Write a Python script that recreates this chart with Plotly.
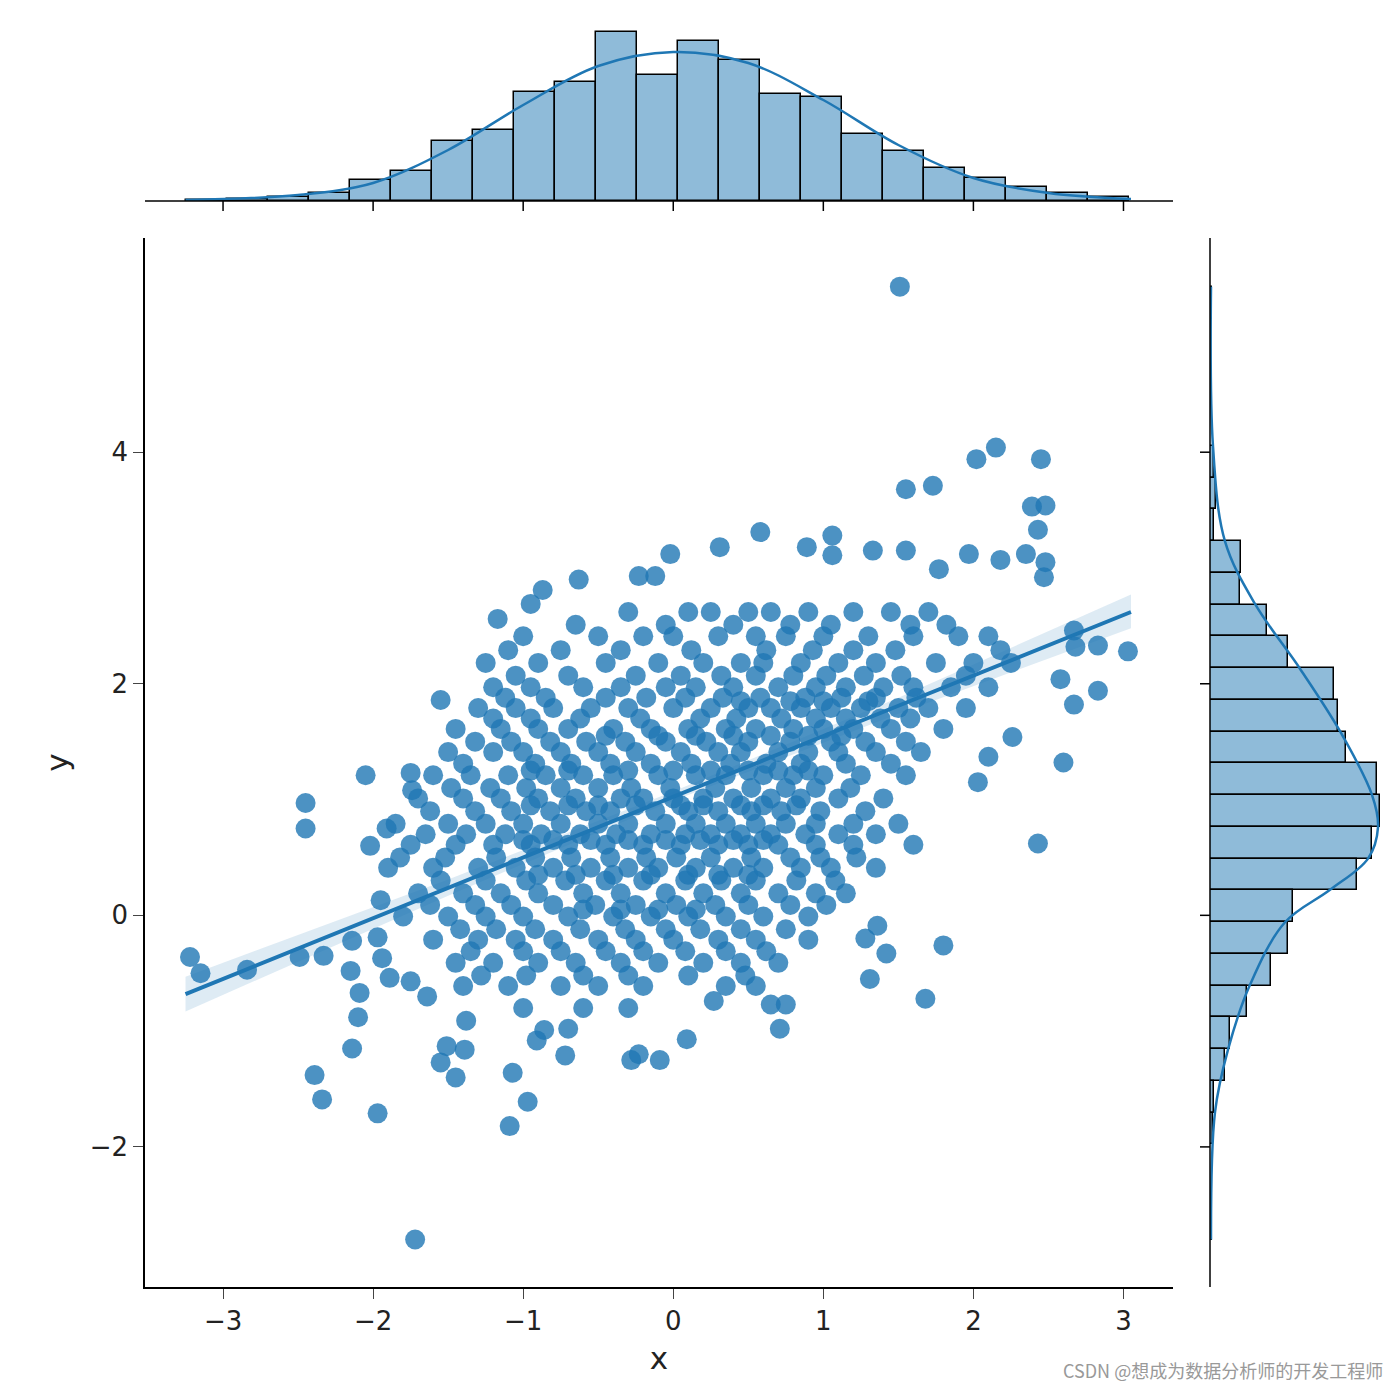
import numpy as np
import plotly.graph_objects as go

BLUE = '#1f77b4'

# top marginal histogram (bar heights)
x_bin_start = -3.25
x_bin_width = 0.2733
x_counts = [1, 2, 4, 8, 21, 30, 60, 71, 109, 119, 169, 126, 160, 141, 107, 104, 67, 50, 33, 23, 14, 8, 4]
x_kde_x = [-3.25, -2.5, -2.0, -1.5, -1.0, -0.5, 0.0, 0.5, 1.0, 1.5, 2.0, 2.5, 3.05]
x_kde_h = [1, 6, 18, 51, 96, 135, 149, 138, 101, 56, 23, 8, 2]

# right marginal histogram (top bin first)
y_bin_top = 5.425
y_bin_width = 0.2742
y_counts = [2, 0, 0, 0, 0, 4, 6, 4, 31, 30, 57, 78, 124, 128, 136, 167, 170, 162, 147,
            83, 78, 61, 37, 20, 15, 4, 3, 0, 0, 2]
y_kde_y = [5.43, 4.05, 3.23, 2.69, 2.13, 1.59, 1.04, 0.76, 0.49, 0.22, -0.06, -0.60, -1.16, -1.70, -2.80]
y_kde_w = [1, 3, 15, 45, 90, 130, 162, 168, 158, 120, 75, 40, 18, 5, 1]

# regression line and confidence band
reg_x = [-3.25, -1.5, 0.0, 1.5, 3.05]
reg_y = [-0.68, 0.24, 1.03, 1.81, 2.62]
reg_lo = [-0.83, 0.17, 0.99, 1.74, 2.48]
reg_hi = [-0.53, 0.31, 1.07, 1.88, 2.77]

# scattered points outside the dense core
out_x = [1.51, -1.72, -3.22, -3.15, -2.84, -2.45, -2.45, -2.49, -2.33, -2.39, -2.34, -1.97, -2.14, -2.10,
         -2.09, -2.15, -2.14, -2.05, -2.02, -1.09, -0.97, -1.07, -1.55, -1.17, -0.95, -0.87, -0.63, -0.02,
         -0.23, -0.12, 0.31, 0.58, 0.89, 1.06, 1.06, 1.55, 1.73, 2.02, 2.15, 2.45, 2.39, 2.48, 2.43, 2.48,
         2.47, 2.35, 2.18, 1.97, 1.77, 1.55, 1.33, 3.03, 2.83, 2.83, 2.67, 2.68, 2.58, 2.67, 2.60, 2.43,
         2.26, 2.10, 2.03, 1.80, 1.68, 1.31, 1.28, 1.42, 1.36, 0.71, 0.65, 0.75, 0.27, 0.09, -0.09, -0.23,
         -0.28, -0.72, -0.70, -0.86, -0.91, -1.38, -1.39, -1.51, -1.55, -1.45, -1.64, -1.75, -1.89, -1.94,
         -1.97, -1.95, -1.91, -1.75, -1.74]
out_y = [5.43, -2.80, -0.36, -0.50, -0.47, 0.97, 0.75, -0.36, -0.35, -1.38, -1.59, -1.71, -1.15, -0.88,
         -0.67, -0.48, -0.22, 1.21, 0.60, -1.82, -1.61, -1.36, 1.86, 2.56, 2.69, 2.81, 2.90, 3.12,
         2.93, 2.93, 3.18, 3.31, 3.18, 3.28, 3.11, 3.68, 3.71, 3.94, 4.04, 3.94, 3.53, 3.54, 3.33, 3.05,
         2.92, 3.12, 3.07, 3.12, 2.99, 3.15, 3.15, 2.28, 1.94, 2.33, 2.46, 2.32, 2.04, 1.82, 1.32, 0.62,
         1.54, 1.37, 1.15, -0.26, -0.72, -0.55, -0.20, -0.33, -0.09, -0.98, -0.77, -0.77, -0.74, -1.07, -1.25, -1.20,
         -1.25, -1.21, -0.98, -0.99, -1.08, -0.91, -1.16, -1.13, -1.27, -1.40, -0.70, -0.57, -0.54, -0.37,
         -0.19, 0.13, 0.75, 1.23, 1.08]

# dense core, read row by row: (y level, x positions)
core_rows = [
    (2.62, [-0.3, 0.1, 0.25, 0.5, 0.65, 0.9, 1.2, 1.45, 1.7]),
    (2.51, [-0.65, -0.05, 0.4, 0.78, 1.05, 1.58, 1.82]),
    (2.41, [-1.0, -0.5, -0.2, 0.0, 0.3, 0.55, 0.75, 1.0, 1.3, 1.6, 1.9, 2.1]),
    (2.29, [-1.1, -0.75, -0.35, 0.12, 0.62, 0.93, 1.2, 1.48, 2.18]),
    (2.18, [-1.25, -0.9, -0.45, -0.1, 0.2, 0.45, 0.6, 0.85, 1.1, 1.35, 1.75, 2.0, 2.25]),
    (2.07, [-1.05, -0.7, -0.25, 0.05, 0.32, 0.55, 0.8, 1.02, 1.27, 1.52, 1.95]),
    (1.97, [-1.2, -0.95, -0.6, -0.35, -0.05, 0.15, 0.4, 0.7, 0.95, 1.15, 1.4, 1.6, 1.85, 2.1]),
    (1.88, [-1.12, -0.85, -0.45, -0.18, 0.08, 0.33, 0.58, 0.88, 1.12, 1.35, 1.62]),
    (1.79, [-1.3, -1.05, -0.8, -0.55, -0.3, 0.0, 0.25, 0.5, 0.65, 0.85, 1.05, 1.25, 1.5, 1.7, 1.95]),
    (1.70, [-1.2, -0.95, -0.62, -0.22, 0.18, 0.42, 0.72, 0.95, 1.15, 1.38, 1.58]),
    (1.61, [-1.45, -1.15, -0.9, -0.7, -0.4, -0.15, 0.1, 0.35, 0.55, 0.8, 1.0, 1.2, 1.45, 1.8]),
    (1.50, [-1.32, -1.08, -0.82, -0.58, -0.32, -0.05, 0.22, 0.5, 0.78, 1.05, 1.28, 1.55]),
    (1.41, [-1.5, -1.2, -1.0, -0.75, -0.5, -0.25, 0.05, 0.3, 0.45, 0.7, 0.9, 1.1, 1.35, 1.65]),
    (1.31, [-1.4, -0.92, -0.68, -0.42, -0.15, 0.12, 0.38, 0.62, 0.85, 1.15, 1.45]),
    (1.21, [-1.6, -1.35, -1.1, -0.85, -0.6, -0.4, -0.1, 0.15, 0.35, 0.6, 0.8, 1.0, 1.25, 1.55]),
    (1.10, [-1.48, -1.22, -0.98, -0.75, -0.5, -0.28, -0.02, 0.28, 0.52, 0.75, 0.95, 1.18]),
    (1.01, [-1.7, -1.4, -1.15, -0.9, -0.65, -0.35, -0.2, 0.0, 0.2, 0.4, 0.65, 0.85, 1.1, 1.4]),
    (0.90, [-1.62, -1.32, -1.08, -0.82, -0.58, -0.42, -0.12, 0.1, 0.3, 0.52, 0.72, 0.98, 1.28]),
    (0.79, [-1.85, -1.5, -1.25, -1.0, -0.75, -0.5, -0.3, -0.05, 0.15, 0.35, 0.55, 0.75, 0.95, 1.2, 1.5]),
    (0.70, [-1.65, -1.38, -1.12, -0.88, -0.62, -0.38, -0.15, 0.08, 0.25, 0.45, 0.65, 0.88, 1.1, 1.35]),
    (0.61, [-1.75, -1.45, -1.2, -0.95, -0.7, -0.45, -0.2, 0.05, 0.3, 0.5, 0.7, 0.95, 1.2, 1.6]),
    (0.50, [-1.82, -1.52, -1.18, -0.92, -0.68, -0.42, -0.18, 0.02, 0.25, 0.52, 0.78, 0.98, 1.22]),
    (0.41, [-1.9, -1.6, -1.3, -1.05, -0.8, -0.55, -0.3, -0.1, 0.15, 0.4, 0.6, 0.85, 1.05, 1.35]),
    (0.30, [-1.55, -1.25, -0.98, -0.72, -0.45, -0.2, 0.08, 0.32, 0.55, 0.82, 1.08]),
    (0.19, [-1.7, -1.4, -1.15, -0.9, -0.6, -0.35, -0.05, 0.2, 0.45, 0.7, 0.95, 1.15]),
    (0.09, [-1.62, -1.32, -1.08, -0.8, -0.52, -0.25, 0.02, 0.28, 0.5, 0.78, 1.02]),
    (-0.01, [-1.8, -1.5, -1.25, -1.0, -0.7, -0.4, -0.15, 0.1, 0.35, 0.6, 0.9]),
    (-0.12, [-1.42, -1.18, -0.92, -0.62, -0.32, -0.05, 0.18, 0.45, 0.75]),
    (-0.21, [-1.6, -1.3, -1.05, -0.8, -0.5, -0.25, 0.0, 0.3, 0.55, 0.9]),
    (-0.31, [-1.35, -1.0, -0.75, -0.45, -0.2, 0.08, 0.35, 0.62]),
    (-0.41, [-1.45, -1.2, -0.9, -0.65, -0.35, -0.1, 0.2, 0.45, 0.7]),
    (-0.52, [-1.28, -0.98, -0.6, -0.3, 0.1, 0.48]),
    (-0.61, [-1.4, -1.1, -0.75, -0.5, -0.2, 0.35, 0.55]),
    (-0.80, [-1.0, -0.6, -0.3]),
]

# solid-looking centre of the cloud
centre_rows = [
    (1.85, [0.45, 0.78, 1.0, 1.3]),
    (1.55, [-0.45, -0.1, 0.15, 0.4, 0.65, 0.9, 1.12]),
    (1.25, [-0.95, -0.7, -0.3, 0.0, 0.25, 0.5, 0.7, 0.9]),
    (0.95, [-0.95, -0.7, -0.5, -0.25, 0.05, 0.2, 0.45, 0.6, 0.82]),
    (0.65, [-1.0, -0.8, -0.55, -0.3, -0.05, 0.18, 0.4, 0.6]),
    (0.35, [-0.9, -0.65, -0.4, -0.15, 0.1, 0.3, 0.5]),
    (0.05, [-0.6, -0.35, -0.1, 0.15]),
]

core_x = [x for _, xs in core_rows + centre_rows for x in xs]
core_y = [y for y, xs in core_rows + centre_rows for _ in xs]
pts_x = out_x + core_x
pts_y = out_y + core_y

x_centers = x_bin_start + x_bin_width * (np.arange(len(x_counts)) + 0.5)
y_centers = y_bin_top - y_bin_width * (np.arange(len(y_counts)) + 0.5)

fig = go.Figure()

fig.add_trace(go.Scatter(x=reg_x + reg_x[::-1], y=reg_hi + reg_lo[::-1], fill='toself', mode='lines',
                         fillcolor='rgba(31,119,180,0.15)', line=dict(width=0),
                         hoverinfo='skip', xaxis='x', yaxis='y'))
fig.add_trace(go.Scatter(x=pts_x, y=pts_y, mode='markers',
                         marker=dict(color=BLUE, size=20, opacity=0.8), xaxis='x', yaxis='y'))
fig.add_trace(go.Scatter(x=reg_x, y=reg_y, mode='lines', line=dict(color=BLUE, width=4),
                         xaxis='x', yaxis='y'))

fig.add_trace(go.Bar(x=x_centers, y=x_counts, width=x_bin_width,
                     marker=dict(color='rgba(31,119,180,0.5)', line=dict(color='black', width=1.5)),
                     xaxis='x', yaxis='y2'))
fig.add_trace(go.Scatter(x=x_kde_x, y=x_kde_h, mode='lines', line=dict(color=BLUE, width=2.5, shape='spline'),
                         xaxis='x', yaxis='y2'))

fig.add_trace(go.Bar(y=y_centers, x=y_counts, width=y_bin_width, orientation='h',
                     marker=dict(color='rgba(31,119,180,0.5)', line=dict(color='black', width=1.5)),
                     xaxis='x2', yaxis='y'))
fig.add_trace(go.Scatter(x=y_kde_w, y=y_kde_y, mode='lines', line=dict(color=BLUE, width=2.5, shape='spline'),
                         xaxis='x2', yaxis='y'))

font = dict(family='DejaVu Sans', size=26, color='#222')
W, H = 1400, 1393
OFF = 8  # page margin of the browser
def px(v):
    return (v - OFF) / W
def py(v):
    return 1 - (v - OFF) / H

fig.update_layout(
    width=W, height=H, showlegend=False, margin=dict(l=0, r=0, t=0, b=0),
    plot_bgcolor='white', paper_bgcolor='white', font=font, bargap=0,
    xaxis=dict(domain=[px(145), px(1173)], range=[-3.52, 3.33], tickvals=[-3, -2, -1, 0, 1, 2, 3],
               ticktext=['\u22123', '\u22122', '\u22121', '0', '1', '2', '3'],
               showline=True, linecolor='black', linewidth=1.5, ticks='outside', ticklen=10,
               showgrid=False, zeroline=False, title=dict(text='x', standoff=12)),
    yaxis=dict(domain=[py(1287), py(238)], range=[-3.21, 5.85], tickvals=[-2, 0, 2, 4],
               ticktext=['\u22122', '0', '2', '4'],
               showline=True, linecolor='black', linewidth=1.5, ticks='outside', ticklen=10,
               showgrid=False, zeroline=False, title=dict(text='y', standoff=12)),
    yaxis2=dict(domain=[py(201), py(28)], range=[0, 173], showticklabels=False,
                showgrid=False, zeroline=False, showline=False),
    xaxis2=dict(domain=[px(1210), px(1385)], range=[0, 175], showticklabels=False,
                showgrid=False, zeroline=False, showline=False),
)

# marginal axis lines with ticks (no labels)
fig.add_shape(type='line', xref='paper', yref='paper', x0=px(145), x1=px(1173),
              y0=py(201), y1=py(201), line=dict(color='black', width=1.5))
fig.add_shape(type='line', xref='paper', yref='paper', x0=px(1210), x1=px(1210),
              y0=py(1287), y1=py(238), line=dict(color='black', width=1.5))
for t in [-3, -2, -1, 0, 1, 2, 3]:
    fig.add_shape(type='line', xref='x', yref='paper', x0=t, x1=t,
                  y0=py(201), y1=py(211), line=dict(color='black', width=1.5))
for t in [-2, 0, 2, 4]:
    fig.add_shape(type='line', xref='paper', yref='y', x0=px(1200), x1=px(1210),
                  y0=t, y1=t, line=dict(color='black', width=1.5))

fig.add_annotation(text='CSDN @想成为数据分析师的开发工程师', xref='paper', yref='paper', x=px(1385), y=py(1385),
                   xanchor='right', yanchor='bottom', showarrow=False,
                   font=dict(family='Noto Sans CJK SC', size=18, color='#999'))

fig.write_html('out.html')
